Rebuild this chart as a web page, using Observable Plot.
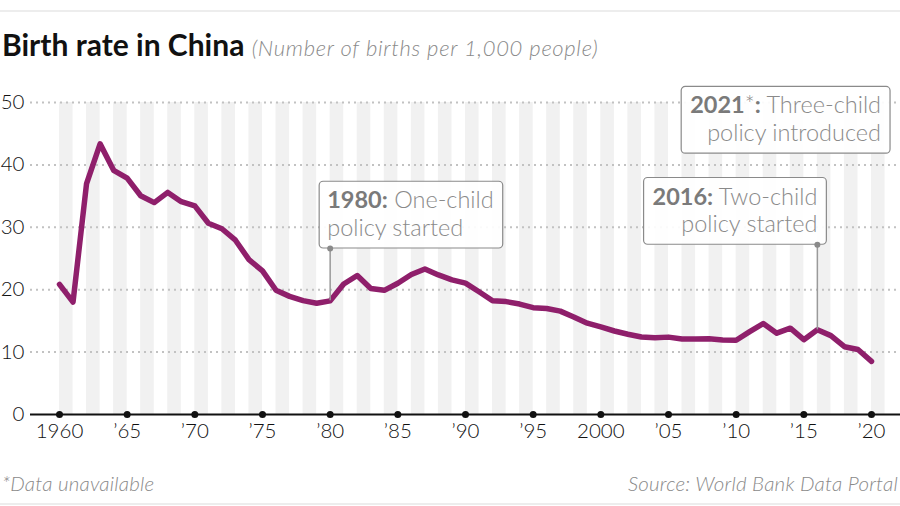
<!DOCTYPE html>
<html><head><meta charset="utf-8">
<script src="https://cdn.jsdelivr.net/npm/d3@7"></script>
<script src="https://cdn.jsdelivr.net/npm/@observablehq/plot@0.6"></script>
<style>
body{margin:0;background:#fff;font-family:Lato,sans-serif;}
#wrap{position:relative;width:900px;height:506px;overflow:hidden;background:#fff;}
.rule{position:absolute;left:0;width:900px;height:2px;background:#ededed;}
#title{position:absolute;left:2px;top:27px;font-size:30px;font-weight:700;color:#111;white-space:nowrap;line-height:34px;}
#title span{font-size:22px;font-weight:300;font-style:italic;color:#8a8a8a;letter-spacing:0.7px;}
#chart{position:absolute;left:0;top:80px;}
.foot{position:absolute;top:472px;font-size:20.5px;font-style:italic;font-weight:300;color:#8a8a8a;line-height:22px;white-space:nowrap;letter-spacing:0.2px;}
</style></head><body>
<div id="wrap">
<div class="rule" style="top:10px"></div>
<div id="title">Birth rate in China <span>(Number of births per 1,000 people)</span></div>
<div id="chart"></div>
<div class="foot" style="left:2px">*Data unavailable</div>
<div class="foot" style="right:2px">Source: World Bank Data Portal</div>
<div class="rule" style="top:503px"></div>
</div>
<script>
const years = d3.range(1960, 2021);
const birthRate = [20.86, 18.02, 37.01, 43.37, 39.14, 37.88, 35.05, 33.96, 35.59, 34.11,
  33.43, 30.65, 29.77, 27.93, 24.82, 23.01, 19.91, 18.93, 18.25, 17.82,
  18.21, 20.91, 22.28, 20.19, 19.90, 21.04, 22.43, 23.33, 22.37, 21.58,
  21.06, 19.68, 18.24, 18.09, 17.70, 17.12, 16.98, 16.57, 15.64, 14.64,
  14.03, 13.38, 12.86, 12.41, 12.29, 12.40, 12.09, 12.10, 12.14, 11.95,
  11.90, 13.27, 14.57, 13.03, 13.83, 11.99, 13.57, 12.64, 10.86, 10.41, 8.52];
const yTicks = [0, 10, 20, 30, 40, 50];
const xTicks = [1960, 1965, 1970, 1975, 1980, 1985, 1990, 1995, 2000, 2005, 2010, 2015, 2020];
const xTickLabels = ["1960", "\u201965", "\u201970", "\u201975", "\u201980", "\u201985", "\u201990", "\u201995", "2000", "\u201905", "\u201910", "\u201915", "\u201920"];
const annoYears = [1980, 2016, 2021];
const annoHeads = ["1980:", "2016:", "2021*:"];
const annoLine1 = ["One-child", "Two-child", "Three-child"];
const annoLine2 = ["policy started", "policy started", "policy introduced"];
const annoBoxBottom = [26.6, 27.2, 41.8];
const annoAlign = ["left", "right", "right"];
const annoLeader = [true, true, false];

const rows = years.map((year, i) => ({year, rate: birthRate[i]}));
const bands = years.filter(y => y % 2 === 0).map(y => ({x1: y, x2: y + 1}));
const annos = annoYears.map((year, i) => ({
  year, head: annoHeads[i], l1: annoLine1[i], l2: annoLine2[i],
  level: annoBoxBottom[i], align: annoAlign[i], leader: annoLeader[i],
  value: (rows.find(r => r.year === year) || {}).rate
}));
const leaders = annos.filter(d => d.leader);
const annoText = d => d.head + " " + d.l1 + "\n" + d.l2;

const lineColor = "#8f1f6b";
const annoColor = "#8a8a8a";
const annoStyle = {x: "year", y: "level", text: annoText, fontSize: 23.5, fill: annoColor, fontWeight: 300, lineHeight: 1.16, lineAnchor: "bottom", dy: -13, ariaLabel: () => "annotation"};

const plot = Plot.plot({
  width: 900, height: 380,
  marginLeft: 30, marginRight: 0, marginTop: 22, marginBottom: 46,
  x: {domain: [1960, 2020], insetLeft: 29, insetRight: 29, axis: null},
  y: {domain: [0, 50], axis: null},
  style: {fontFamily: "Lato, sans-serif", background: "transparent", overflow: "visible"},
  marks: [
    Plot.rect(bands, {x1: "x1", x2: "x2", y1: () => yTicks[0], y2: () => yTicks[yTicks.length - 1], fill: "#f1f1f1"}),
    Plot.ruleY(yTicks.filter(v => v > 0), {stroke: "#c2c2c2", strokeWidth: 2, strokeDasharray: "2,4"}),
    Plot.ruleY([0], {stroke: "#111", strokeWidth: 2}),
    Plot.dot(xTicks, {x: d => d, y: () => 0, r: 3.5, fill: "#111", stroke: null}),
    Plot.text(xTicks, {x: d => d, text: (d, i) => xTickLabels[i], frameAnchor: "bottom", dy: 23, fontSize: 20.5, fill: "#111", fontWeight: 300}),
    Plot.text(yTicks, {y: d => d, text: d => String(d), frameAnchor: "left", textAnchor: "end", dx: -6, fontSize: 20.5, fill: "#111", fontWeight: 300}),
    Plot.line(rows, {x: "year", y: "rate", stroke: lineColor, strokeWidth: 5.5, strokeLinejoin: "round", strokeLinecap: "round"}),
    Plot.ruleX(leaders, {x: "year", y1: "value", y2: "level", stroke: "#9a9a9a", strokeWidth: 1.5, ariaLabel: () => "leader"}),
    Plot.dot(leaders, {x: "year", y: "level", r: 3, fill: "#8a8a8a", stroke: null}),
    Plot.text(annos.filter(d => d.align === "left"), {...annoStyle, textAnchor: "start", dx: -3}),
    Plot.text(annos.filter(d => d.align === "right" && d.leader), {...annoStyle, textAnchor: "end", dx: 0}),
    Plot.text(annos.filter(d => d.align === "right" && !d.leader), {...annoStyle, textAnchor: "end", dx: -4})
  ]
});
document.getElementById("chart").appendChild(plot);

// mixed-weight first line and rounded boxes behind annotations
const ys = plot.scale("y");
const yPix = v => (ys && ys.apply) ? ys.apply(v) : d3.scaleLinear(ys.domain, ys.range)(v);
const svgNS = "http://www.w3.org/2000/svg";
const boxG = document.createElementNS(svgNS, "g");
const firstAnno = plot.querySelector('[aria-label="annotation"]');
const leaderEl = plot.querySelector('[aria-label="leader"]');
const anchorG = (leaderEl || firstAnno).parentNode;
anchorG.parentNode.insertBefore(boxG, anchorG);
const span = (parent, text, weight) => {
  const s = document.createElementNS(svgNS, "tspan");
  if (weight) { s.setAttribute("font-weight", weight); s.setAttribute("fill", "#7a7a7a"); }
  s.textContent = text;
  parent.appendChild(s);
};
plot.querySelectorAll('text[aria-label="annotation"]').forEach(t => {
  const first = t.querySelector("tspan");
  const content = first.textContent;
  const a = annos.find(d => content.startsWith(d.head));
  first.textContent = "";
  const parts = a.head.split("*");
  span(first, parts[0], "700");
  if (parts.length > 1) { span(first, "*", null); span(first, parts[1], "700"); }
  span(first, " " + a.l1, null);
  const bb = t.getBBox();
  const m = t.getCTM();
  const pad = a.align === "left" ? [8, 9] : [9, 9];
  const x0 = m.e + bb.x - pad[0];
  const x1 = m.e + bb.x + bb.width + pad[1];
  const y0 = m.f + bb.y - 4;
  const y1 = yPix(a.level);
  const rect = document.createElementNS(svgNS, "rect");
  rect.setAttribute("x", x0); rect.setAttribute("y", y0);
  rect.setAttribute("width", x1 - x0); rect.setAttribute("height", y1 - y0);
  rect.setAttribute("rx", 4);
  rect.setAttribute("fill", "#fff"); rect.setAttribute("fill-opacity", 0.92);
  rect.setAttribute("stroke", "#8a8a8a"); rect.setAttribute("stroke-width", 1.2);
  boxG.appendChild(rect);
});
</script>
</body></html>
